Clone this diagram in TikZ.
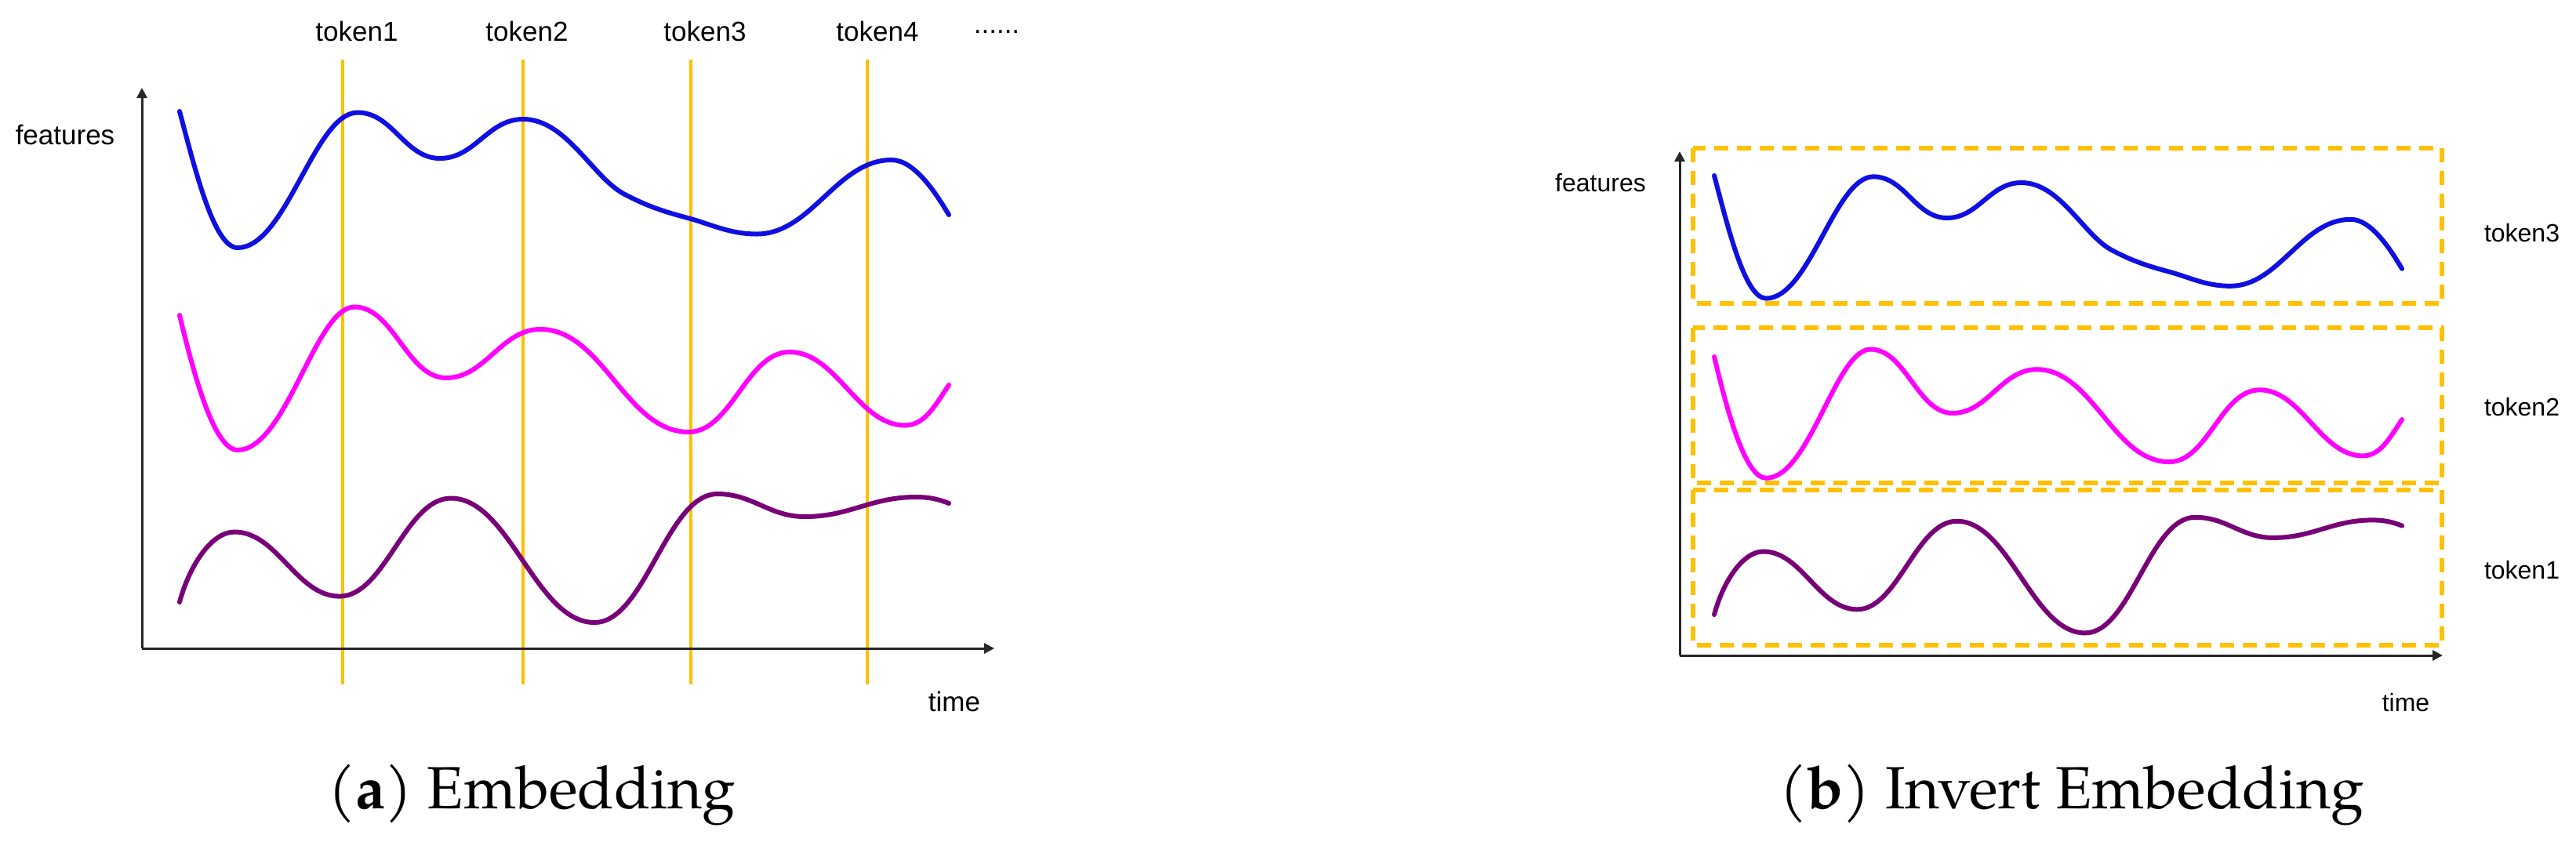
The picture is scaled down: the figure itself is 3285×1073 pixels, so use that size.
\documentclass[tikz,border=0pt]{standalone}
\usepackage{fontspec}
\newfontfamily\labfont{Liberation Sans}
\newfontfamily\capfont{TeX Gyre Pagella}
\usetikzlibrary{arrows.meta}
\definecolor{tokyellow}{RGB}{255,192,0}
\definecolor{cblue}{RGB}{15,15,225}
\definecolor{cmag}{RGB}{255,0,255}
\definecolor{cpur}{RGB}{120,0,120}
\newcommand\pathblue{(229,142) .. controls +(20,75) and +(-30,0) .. (303,316) .. controls +(62,0) and +(-55,0) .. (456,143.5) .. controls +(45,0) and +(-45,0) .. (561,202) .. controls +(45,0) and +(-45,0) .. (667,152) .. controls +(55,0) and +(-40,-22) .. (795,247) .. controls +(30,16) and +(-30,-8) .. (877,278) .. controls +(30,8) and +(-35,0) .. (965,298.5) .. controls +(70,0) and +(-70,0) .. (1137,204) .. controls +(30,0) and +(-15,-25) .. (1210,274)}
\newcommand\pathmag{(229,402) .. controls +(18,75) and +(-30,0) .. (303,574) .. controls +(62,0) and +(-50,0) .. (452,391.5) .. controls +(50,0) and +(-50,0) .. (569,482) .. controls +(50,0) and +(-50,0) .. (689,420) .. controls +(80,0) and +(-80,0) .. (878,551) .. controls +(55,0) and +(-55,0) .. (1007,449) .. controls +(60,0) and +(-60,0) .. (1154,542.5) .. controls +(25,0) and +(-18,27) .. (1210,491)}
\newcommand\pathpur{(229,768) .. controls +(12,-45) and +(-30,0) .. (299,678.5) .. controls +(55,0) and +(-55,0) .. (433,760.6) .. controls +(58,0) and +(-58,0) .. (575,635.5) .. controls +(75,0) and +(-75,0) .. (758,794) .. controls +(65,0) and +(-65,0) .. (915,630) .. controls +(45,0) and +(-45,0) .. (1026,659) .. controls +(58,0) and +(-58,0) .. (1168,634) .. controls +(15,0) and +(-15,-6) .. (1210,642)}
\begin{document}
\begin{tikzpicture}[x=0.5pt,y=-0.5pt,
  axis/.style={line width=1.5pt, draw=black!85, -{Triangle[length=6.5pt,width=6.5pt]}},
  tokline/.style={line width=2pt, draw=tokyellow},
  curve/.style={line width=3pt, line cap=round},
  dbox/.style={draw=tokyellow, line width=3pt, dash pattern=on 9pt off 5.5pt},
  lbla/.style={font=\labfont\fontsize{17.5}{20}\selectfont, inner sep=0pt},
  lblb/.style={font=\labfont\fontsize{16}{19}\selectfont, inner sep=0pt},
  capt/.style={font=\capfont\fontsize{38}{44}\selectfont, inner sep=0pt, anchor=base west}]
\useasboundingbox (0,0) rectangle (3285,1073);
\fill[white] (0,0) rectangle (3285,1073);
% ---------- panel (a) ----------
\coordinate (oa) at (181,827);
\coordinate (ya) at (181,112);
\coordinate (xa) at (1268,827);
\foreach \i/\x in {1/437,2/667,3/881,4/1106}{
  \coordinate (ta\i top) at (\x,76);
  \coordinate (ta\i bot) at (\x,873);
  \draw[tokline] (ta\i top) -- (ta\i bot);
}
\draw[axis] (oa) -- (ya);
\draw[axis] (oa) -- (xa);
\draw[curve, cblue] \pathblue;
\draw[curve, cmag] \pathmag;
\draw[curve, cpur] \pathpur;
\node[lbla] (feata) at (83,172) {features};
\node[lbla] (timea) at (1217,895) {time};
\node[lbla] (tok1a) at (455,40) {token1};
\node[lbla] (tok2a) at (672,40) {token2};
\node[lbla] (tok3a) at (899,40) {token3};
\node[lbla] (tok4a) at (1119,40) {token4};
\node[lbla, anchor=base] (dotsa) at (1271,42) {......};
\node[capt] (capa) at (418,1031) {(\textbf{a}) Embedding};
% ---------- panel (b) ----------
\coordinate (ob) at (2142,836);
\coordinate (yb) at (2142,193);
\coordinate (xb) at (3115,836);
\draw[axis] (ob) -- (yb);
\draw[axis] (ob) -- (xb);
\draw[dbox] (2159,188.5) rectangle (3114,387);
\draw[dbox] (2159,418) rectangle (3114,616);
\draw[dbox] (2159,624.5) rectangle (3114,823);
\begin{scope}[shift={(1981.3,96.2)}, xscale=0.894, yscale=0.9]
\draw[curve, cblue] \pathblue;
\end{scope}
\begin{scope}[shift={(1981.3,93.2)}, xscale=0.894, yscale=0.9]
\draw[curve, cmag] \pathmag;
\end{scope}
\begin{scope}[shift={(1981.3,92.8)}, xscale=0.894, yscale=0.9]
\draw[curve, cpur] \pathpur;
\end{scope}
\node[lblb] (featb) at (2041,233) {features};
\node[lblb] (timeb) at (3068,896) {time};
\node[lblb] (tok3b) at (3216,297) {token3};
\node[lblb] (tok2b) at (3216,519) {token2};
\node[lblb] (tok1b) at (3216,727) {token1};
\node[capt] (capb) at (2269,1031) {(\textbf{b}) Invert Embedding};
\end{tikzpicture}
\end{document}
